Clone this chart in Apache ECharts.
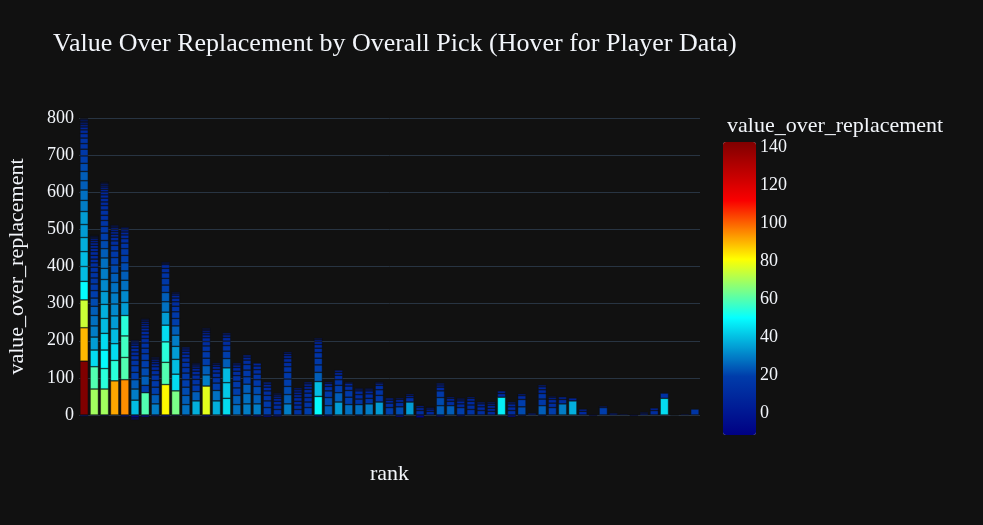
<!DOCTYPE html>
<html>
<head>
<meta charset="UTF-8">
<title>Value Over Replacement by Overall Pick</title>
<script src="https://cdn.jsdelivr.net/npm/echarts@6.0.0/dist/echarts.min.js"></script>
<style>
  html, body { margin: 0; background: #111111; }
  #chart { width: 983px; height: 525px; }
</style>
</head>
<body>
<div id="chart"></div>
<script>
    // value_over_replacement of each player picked at a given overall rank (stack order bottom-up)
    const ranks = [];
    for (let i = 1; i <= 61; i++) ranks.push(i);
    const picks = [
        [145, 90, 75, 50, 40, 40, 38, 35, 35, 30, 28, 25, 25, 22, 20, 18, 15, 15, 12, 10, 8, 6, 5, 4, 4, 3, 2, -4],
        [70, 60, 45, 35, 30, 28, 25, 22, 20, 18, 16, 15, 14, 12, 10, 10, 10, 9, 8, 7, 6, 5, 4, 3, 2, 1],
        [70, 55, 50, 45, 40, 38, 35, 32, 30, 28, 25, 22, 20, 18, 16, 14, 14, 12, 10, 10, 9, 8, 7, 6, 5, 4, 3, 2, -3],
        [92, 55, 45, 40, 35, 32, 30, 28, 25, 22, 20, 18, 15, 12, 10, 8, 7, 6, 5, 4, 3],
        [95, 60, 58, 55, 35, 32, 28, 25, 22, 20, 18, 15, 12, 10, 8, 6, 5, 3, -5],
        [40, 30, 25, 20, 18, 15, 12, 10, 10, 8, 6, 5, 3, -8, -5],
        [60, 20, 25, 22, 20, 18, 15, 14, 12, 10, 10, 8, 7, 6, 5, 4, 3, 2, -6],
        [30, 25, 20, 18, 15, 12, 10, 8, 6, 5, 4, 3, -4],
        [82, 60, 55, 45, 35, 28, 25, 20, 18, 15, 12, 10, 4, 3, -5],
        [65, 45, 40, 35, 30, 25, 20, 18, 15, 12, 10, 8, 5, 3, -3],
        [28, 25, 22, 20, 18, 15, 14, 12, 10, 8, 6, 5, -3],
        [38, 25, 18, 15, 12, 10, 8, 6, 5, 3],
        [78, 30, 25, 20, 18, 15, 12, 10, 8, 6, 5, 4, 3, -5],
        [38, 28, 20, 15, 12, 10, 8, 5, 4],
        [45, 42, 40, 25, 20, 15, 12, 10, 7, 5, -4],
        [28, 25, 20, 18, 15, 12, 10, 7, 5],
        [30, 28, 25, 20, 18, 15, 12, 8, 6, -4],
        [30, 25, 22, 18, 15, 12, 10, 8, -5],
        [20, 18, 15, 12, 10, 8, 6, -6],
        [15, 12, 10, 8, 6, 5, 3, -5],
        [30, 25, 22, 20, 18, 15, 12, 10, 8, 6, 4],
        [15, 12, 10, 10, 8, 7, 6, 5],
        [20, 15, 12, 12, 10, 8, 7, 5],
        [50, 40, 25, 20, 18, 15, 12, 10, 8, 5, 4, -5],
        [25, 22, 18, 12, 8, 4, -4],
        [35, 25, 20, 15, 12, 8, 6],
        [28, 20, 18, 12, 8, 3],
        [28, 15, 12, 10, 5, 3, -3],
        [30, 15, 12, 8, 5, 3],
        [35, 18, 15, 12, 6, 3],
        [20, 12, 8, 6],
        [22, 12, 8, 4, -6],
        [35, 12, 6, 4],
        [12, 8, 5, 2, -8],
        [10, 6, 4, 2],
        [25, 22, 18, 10, 6, 5, -5],
        [25, 12, 8, 4],
        [20, 10, 8, 5, 3, -4],
        [15, 12, 10, 8, 4],
        [12, 10, 8, 5],
        [10, 8, 8, 5, 4],
        [48, 10, 7],
        [12, 10, 8, 5, -6],
        [22, 20, 10, 5, -3],
        [5],
        [25, 18, 15, 10, 8, 5, -3],
        [20, 12, 10, 6, 3],
        [30, 12, 7],
        [38, 8],
        [10, 6],
        [2, -3],
        [20, 4],
        [5],
        [3],
        [2, -3],
        [5, 3],
        [12, 7],
        [45, 14],
        [0],
        [3],
        [16]
    ];
    const colorTicks = [-20, 0, 20, 40, 60, 80, 100, 120, 140];
    const yTicks = [0, 100, 200, 300, 400, 500, 600, 700, 800];

    const jet = ['rgb(0,0,131)', 'rgb(0,60,170)', 'rgb(5,255,255)', 'rgb(255,255,0)', 'rgb(250,0,0)', 'rgb(128,0,0)'];
    const font = '"Liberation Serif", "DejaVu Serif", serif';

    const maxLen = Math.max(...picks.map(p => p.length));
    const series = [];
    for (let k = 0; k < maxLen; k++) {
        series.push({
            type: 'bar',
            stack: 'vor',
            clip: false,
            barCategoryGap: '18%',
            data: picks.map(p => (k < p.length ? p[k] : null)),
            itemStyle: { borderColor: 'rgba(17,17,17,0.7)', borderWidth: 0.6 }
        });
    }

    const chart = echarts.init(document.getElementById('chart'));
    chart.setOption({
        backgroundColor: '#111111',
        animation: false,
        textStyle: { fontFamily: font },
        title: [
            {
                text: 'Value Over Replacement by Overall Pick (Hover for Player Data)',
                left: 48, top: 26,
                textStyle: { color: '#f2f5fa', fontSize: 26, fontWeight: 'normal', fontFamily: font }
            },
            {
                text: 'value_over_replacement',
                left: 722, top: 110,
                textStyle: { color: '#f2f5fa', fontSize: 22, fontWeight: 'normal', fontFamily: font }
            }
        ],
        grid: [
            { left: 79, right: 283, top: 118, bottom: 110, outerBoundsMode: 'none' },
            { left: 723, width: 33, top: 147, height: 304, outerBoundsMode: 'none' }
        ],
        xAxis: [
            {
                type: 'category', data: ranks, gridIndex: 0,
                name: 'rank', nameLocation: 'middle', nameGap: 48,
                nameTextStyle: { color: '#f2f5fa', fontSize: 22, fontFamily: font },
                axisLine: { show: false }, axisTick: { show: false }, axisLabel: { show: false }
            },
            { type: 'value', gridIndex: 1, show: false }
        ],
        yAxis: [
            {
                type: 'value', gridIndex: 0, min: yTicks[0], max: yTicks[yTicks.length - 1], interval: 100,
                name: 'value_over_replacement', nameLocation: 'middle', nameGap: 51,
                nameTextStyle: { color: '#f2f5fa', fontSize: 22, fontFamily: font },
                axisLabel: { color: '#f2f5fa', fontSize: 18, fontFamily: font, margin: 5 },
                splitLine: { lineStyle: { color: '#283442', width: 1 } },
                axisLine: { show: false }, axisTick: { show: false }
            },
            {
                type: 'value', gridIndex: 1, position: 'right', min: colorTicks[0], max: colorTicks[colorTicks.length - 1],
                interval: 20,
                axisLabel: {
                    color: '#f2f5fa', fontSize: 18, fontFamily: font, margin: 4,
                    formatter: v => (v < 0 ? '' : v)
                },
                splitLine: { show: false }, axisLine: { show: false }, axisTick: { show: false }
            }
        ],
        visualMap: {
            type: 'continuous',
            min: -11, max: 143,
            seriesIndex: series.map((s, i) => i),
            inRange: { color: jet },
            calculable: false,
            left: 723, top: 142,
            padding: 0,
            itemWidth: 33, itemHeight: 293,
            text: null,
            showLabel: false
        },
        series: series
    });
</script>
</body>
</html>
